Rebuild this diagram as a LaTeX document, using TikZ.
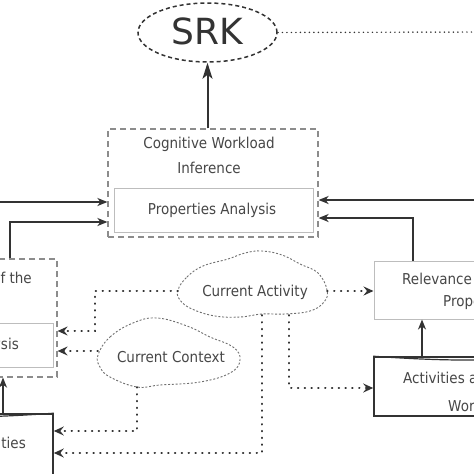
\documentclass[tikz,border=0pt]{standalone}
\usepackage{fontspec}
\setmainfont{DejaVu Sans}[FakeStretch=0.9]
\newfontfamily\srkfont{DejaVu Sans}
\usetikzlibrary{shapes.symbols,shapes.geometric,arrows.meta}
\definecolor{ln}{HTML}{333333}
\definecolor{txt}{HTML}{474747}
\definecolor{dsh}{HTML}{8C8C8C}
\definecolor{inb}{HTML}{BDBDBD}
\definecolor{cld}{HTML}{707070}
\tikzset{
 solidarrow/.style={draw=ln, line width=1.6pt, -{Stealth[length=10pt,width=8pt,inset=3pt]}},
 dotarrow/.style={draw=ln, line width=2pt, line cap=round, dash pattern=on 0.5pt off 6.3pt, -{Stealth[length=10pt,width=9pt,inset=3.5pt]}},
 dashbox/.style={draw=dsh, line width=1.2pt, dash pattern=on 6pt off 4pt, rectangle, inner sep=0pt},
 innerbox/.style={draw=inb, line width=1pt, rectangle, inner sep=0pt},
 dbbox/.style={draw=ln, line width=1.6pt, rectangle, inner sep=0pt},
 cloudarea/.style={rectangle, draw=none, inner sep=0pt},
 cloudline/.style={draw=cld, line width=0.9pt, dash pattern=on 2pt off 1.8pt},
 lbl/.style={text=txt, inner sep=0pt, font=\fontsize{15}{18}\selectfont},
}
\begin{document}
\begin{tikzpicture}[x=1pt,y=-1pt]
\fill[white] (0,0) rectangle (474,474);
\useasboundingbox (0,0) rectangle (474,474);
\clip (0,0) rectangle (474,474);

% boxes
\node[draw=ln, line width=1.5pt, dash pattern=on 4pt off 3pt, ellipse, minimum width=139pt, minimum height=59pt, inner sep=0pt] (srk) at (207.5,32.5) {};
\node[text=ln, inner sep=0pt, font=\srkfont\fontsize{36}{40}\selectfont] (srkt) at (207.5,31) {SRK};
\node[dashbox, minimum width=210pt, minimum height=108pt] (cw) at (213,183) {};
\node[innerbox, minimum width=199pt, minimum height=44pt] (pa) at (213.5,210) {};
\node[dashbox, minimum width=200pt, minimum height=118pt] (lo) at (-43,318) {};
\node[innerbox, minimum width=192pt, minimum height=44pt] (li) at (-43,345) {};
\node[innerbox, minimum width=200pt, minimum height=58pt] (rel) at (474,290) {};
\node[dbbox, minimum width=186pt, minimum height=59pt] (rc) at (467,386.5) {};
\draw[ln, line width=1.2pt] (rc.north west) to[bend right=4] (rc.north east);
\node[dbbox, minimum width=186pt, minimum height=66pt] (lc) at (-40,447) {};
\draw[ln, line width=1.2pt] (lc.north west) to[bend right=4] (lc.north east);

% clouds
\node[cloudarea, minimum width=149pt, minimum height=64pt] (ca) at (252.5,283) {};
\draw[cloudline] plot[smooth cycle, tension=0.7] coordinates {(178,290) (187,277) (203,266) (228,259) (245,253) (262,251) (282,255) (300,264) (318,273) (327,290) (324,302) (310,311) (285,314) (262,314) (240,317) (215,316) (192,309) (180,300)};
\node[cloudarea, minimum width=142pt, minimum height=69pt] (cc) at (169,352.5) {};
\draw[cloudline] plot[smooth cycle, tension=0.7] coordinates {(98,355) (110,337) (133,323) (157,318) (187,326) (210,337) (233,347) (240,360) (230,373) (200,382) (160,385) (137,387) (110,377) (100,367)};

% texts
\node[lbl] (cwt1) at (209,144) {Cognitive Workload};
\node[lbl] (cwt2) at (209,168) {Inference};
\node[lbl] (pat) at (212,210) {Properties Analysis};
\node[lbl, anchor=east] (lot) at (32,279) {Analysis of the};
\node[lbl, anchor=east] (lit) at (19,345) {Properties Analysis};
\node[lbl, anchor=west] (relt1) at (402,279) {Relevance of the};
\node[lbl, anchor=west] (relt2) at (443,302) {Properties};
\node[lbl, anchor=west] (rct1) at (403,378) {Activities and};
\node[lbl, anchor=west] (rct2) at (448,406) {Workload};
\node[lbl, anchor=east] (lct) at (26,443) {Activities};
\node[lbl] (cat) at (255,292) {Current Activity};
\node[lbl] (cct) at (171,357) {Current Context};

% solid connectors
\draw[solidarrow, line width=2pt, -{Stealth[length=16pt,width=10pt,inset=4pt]}] (srk.south |- cw.north) -- (srk.south);
\coordinate (lin) at (-10,202);
\coordinate (rin) at (490,200);
\draw[solidarrow] (lin) -- (cw.west |- lin);
\draw[solidarrow] (lo.north -| 10,0) |- (cw.west |- 0,222);
\draw[solidarrow] (rin) -- (cw.east |- rin);
\draw[solidarrow] (rel.north -| 413,0) |- (cw.east |- 0,218);
\draw[solidarrow] (rc.north -| 422,0) -- (rel.south -| 422,0);
\draw[solidarrow] (lc.north -| 3,0) -- (lo.south -| 3,0);

% dotted connectors
\coordinate (srkr) at (480,32);
\draw[draw=ln, line width=1.4pt, line cap=round, dash pattern=on 0.3pt off 4.2pt] (srk.east) -- (srkr);
\draw[dotarrow] (ca.west |- 0,291) -| (95,331) -- (lo.east |- 0,331);
\draw[dotarrow] (cc.west |- 0,351) -- (lo.east |- 0,351);
\draw[dotarrow] (ca.east |- 0,291) -- (rel.west |- 0,291);
\draw[dotarrow] (cc.south -| 137,0) |- (lc.east |- 0,431);
\draw[dotarrow] (ca.south -| 262,0) |- (lc.east |- 0,453);
\draw[dotarrow] (ca.south -| 289,0) |- (rc.west |- 0,388);
\end{tikzpicture}
\end{document}
